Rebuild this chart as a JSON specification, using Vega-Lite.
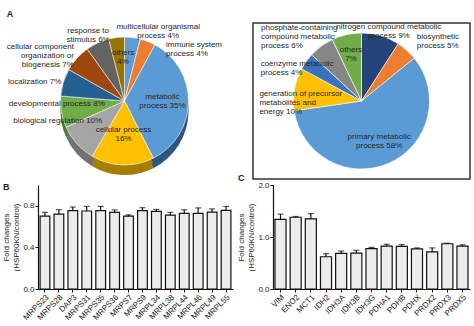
{
  "$schema": "https://vega.github.io/schema/vega-lite/v6.json",
  "padding": {"left": 2, "top": 9, "right": 0, "bottom": 0},
  "background": "white",
  "spacing": -13,
  "config": {
    "view": {"stroke": null},
    "font": "Liberation Sans",
    "axis": {"labelFont": "Liberation Sans", "titleFont": "Liberation Sans", "labelFontSize": 8, "titleFontSize": 8, "titleFontWeight": "normal", "domainColor": "#111", "tickColor": "#111", "labelColor": "#222", "titleColor": "#222", "grid": false, "tickSize": 3, "domainWidth": 1.2, "tickWidth": 1, "labelPadding": 1, "titlePadding": 2},
    "title": {"font": "Liberation Sans", "fontSize": 9, "fontWeight": "bold", "anchor": "start", "color": "#222", "offset": 2},
    "legend": {"disable": true}
  },
  "datasets": {
    "goA": [
      {"i": 1, "cat": "multicellular organismal process", "pct": 4, "label": "multicellular organismal\nprocess 4%"},
      {"i": 2, "cat": "immune system process", "pct": 4, "label": "immune system\nprocess 4%"},
      {"i": 3, "cat": "metabolic process", "pct": 35, "label": "metabolic\nprocess 35%"},
      {"i": 4, "cat": "cellular process", "pct": 16, "label": "cellular process\n16%"},
      {"i": 5, "cat": "biological regulation", "pct": 10, "label": "biological regulation 10%"},
      {"i": 6, "cat": "developmental process", "pct": 8, "label": "developmental process 8%"},
      {"i": 7, "cat": "localization", "pct": 7, "label": "localization 7%"},
      {"i": 8, "cat": "cellular component organization or biogenesis", "pct": 7, "label": "cellular component\norganization or\nbiogenesis 7%"},
      {"i": 9, "cat": "response to stimulus", "pct": 6, "label": "response to\nstimulus 6%"},
      {"i": 10, "cat": "others", "pct": 4, "label": "others\n4%"}
    ],
    "goB": [
      {"i": 1, "cat": "nitrogen compound metabolic process", "pct": 9, "label": "nitrogen compound metabolic\nprocess 9%"},
      {"i": 2, "cat": "biosynthetic process", "pct": 5, "label": "biosynthetic\nprocess 5%"},
      {"i": 3, "cat": "primary metabolic process", "pct": 58, "label": "primary metabolic\nprocess 58%"},
      {"i": 4, "cat": "generation of precursor metabolites and energy", "pct": 10, "label": "generation of precursor\nmetabolites and\nenergy 10%"},
      {"i": 5, "cat": "coenzyme metabolic process", "pct": 4, "label": "coenzyme metabolic\nprocess 4%"},
      {"i": 6, "cat": "phosphate-containing compound metabolic process", "pct": 6, "label": "phosphate-containing\ncompound metabolic\nprocess 6%"},
      {"i": 7, "cat": "others", "pct": 7, "label": "others\n7%"}
    ],
    "barB": [
      {"gene": "MRPS23", "value": 0.70, "upper": 0.737},
      {"gene": "MRPS28", "value": 0.72, "upper": 0.762},
      {"gene": "DAP3", "value": 0.753, "upper": 0.788},
      {"gene": "MRPS31", "value": 0.75, "upper": 0.794},
      {"gene": "MRPS35", "value": 0.753, "upper": 0.794},
      {"gene": "MRPS36", "value": 0.737, "upper": 0.76},
      {"gene": "MRPS7", "value": 0.70, "upper": 0.713},
      {"gene": "MRPS9", "value": 0.753, "upper": 0.782},
      {"gene": "MRPL34", "value": 0.746, "upper": 0.765},
      {"gene": "MRPL38", "value": 0.71, "upper": 0.737},
      {"gene": "MRPL44", "value": 0.727, "upper": 0.762},
      {"gene": "MRPL46", "value": 0.727, "upper": 0.78},
      {"gene": "MRPL49", "value": 0.74, "upper": 0.77},
      {"gene": "MRPL55", "value": 0.756, "upper": 0.794}
    ],
    "barC": [
      {"gene": "VIM", "value": 1.34, "upper": 1.44},
      {"gene": "ENO2", "value": 1.38, "upper": 1.395},
      {"gene": "MCT1", "value": 1.35, "upper": 1.45},
      {"gene": "IDH2", "value": 0.62, "upper": 0.68},
      {"gene": "IDH3A", "value": 0.685, "upper": 0.73},
      {"gene": "IDH3B", "value": 0.69, "upper": 0.745},
      {"gene": "IDH3G", "value": 0.775, "upper": 0.8},
      {"gene": "PDHA1", "value": 0.825, "upper": 0.86},
      {"gene": "PDHB", "value": 0.82, "upper": 0.855},
      {"gene": "PDHX", "value": 0.77, "upper": 0.79},
      {"gene": "PRDX2", "value": 0.715, "upper": 0.79},
      {"gene": "PRDX3", "value": 0.87, "upper": 0.88},
      {"gene": "PRDX5", "value": 0.825, "upper": 0.85}
    ]
  },
  "vconcat": [
    {
      "title": {"text": "A"},
      "spacing": 29,
      "hconcat": [
        {
          "width": 173, "height": 156,
          "data": {"name": "goA"},
          "encoding": {
            "theta": {"field": "pct", "type": "quantitative", "stack": true},
            "order": {"field": "i", "type": "quantitative"}
          },
          "resolve": {"scale": {"color": "independent"}},
          "layer": [
            {"mark": {"type": "arc", "outerRadius": 64, "yOffset": 10},
             "encoding": {"color": {"field": "cat", "type": "nominal", "legend": null,
               "scale": {"domain": ["multicellular organismal process","immune system process","metabolic process","cellular process","biological regulation","developmental process","localization","cellular component organization or biogenesis","response to stimulus","others"],
                         "range": ["#3A6C9C","#A8551F","#2B5881","#A67D00","#717171","#4C7A30","#173F63","#6B300A","#434343","#6A5000"]}}}},
            {"mark": {"type": "arc", "outerRadius": 64, "yOffset": 5},
             "encoding": {"color": {"field": "cat", "type": "nominal", "legend": null,
               "scale": {"domain": ["multicellular organismal process","immune system process","metabolic process","cellular process","biological regulation","developmental process","localization","cellular component organization or biogenesis","response to stimulus","others"],
                         "range": ["#3A6C9C","#A8551F","#2B5881","#A67D00","#717171","#4C7A30","#173F63","#6B300A","#434343","#6A5000"]}}}},
            {"mark": {"type": "arc", "outerRadius": 64, "stroke": "#ffffff", "strokeWidth": 0.6},
             "encoding": {"color": {"field": "cat", "type": "nominal", "legend": null,
               "scale": {"domain": ["multicellular organismal process","immune system process","metabolic process","cellular process","biological regulation","developmental process","localization","cellular component organization or biogenesis","response to stimulus","others"],
                         "range": ["#5E9CD8","#ED7D31","#5B9BD5","#FFC000","#A5A5A5","#70AD47","#255E91","#9E480E","#636363","#997300"]}}}},
            {"mark": {"type": "text", "radius": 70, "align": "center", "baseline": "middle", "dx": 25, "dy": -4.5, "fontSize": 8, "lineHeight": 9, "lineBreak": "\n", "color": "#262626"},
             "encoding": {"text": {"condition": {"test": "datum.i == 1", "field": "label"}, "value": ""}}},
            {"mark": {"type": "text", "radius": 70, "align": "left", "baseline": "middle", "dx": 16, "dy": 9.5, "fontSize": 8, "lineHeight": 9, "lineBreak": "\n", "color": "#262626"},
             "encoding": {"text": {"condition": {"test": "datum.i == 2", "field": "label"}, "value": ""}}},
            {"mark": {"type": "text", "radius": 38, "align": "center", "baseline": "middle", "dy": -4.5, "fontSize": 8, "lineHeight": 9, "lineBreak": "\n", "color": "#262626"},
             "encoding": {"text": {"condition": {"test": "datum.i == 3", "field": "label"}, "value": ""}}},
            {"mark": {"type": "text", "radius": 34, "align": "center", "baseline": "middle", "dy": -4.5, "fontSize": 8, "lineHeight": 9, "lineBreak": "\n", "color": "#262626"},
             "encoding": {"text": {"condition": {"test": "datum.i == 4", "field": "label"}, "value": ""}}},
            {"mark": {"type": "text", "radius": 30, "align": "right", "baseline": "middle", "fontSize": 8, "lineHeight": 9, "lineBreak": "\n", "color": "#262626"},
             "encoding": {"text": {"condition": {"test": "datum.i == 5", "field": "label"}, "value": ""}}},
            {"mark": {"type": "text", "radius": 20, "align": "right", "baseline": "middle", "fontSize": 8, "lineHeight": 9, "lineBreak": "\n", "color": "#262626"},
             "encoding": {"text": {"condition": {"test": "datum.i == 6", "field": "label"}, "value": ""}}},
            {"mark": {"type": "text", "radius": 66, "align": "right", "baseline": "middle", "fontSize": 8, "lineHeight": 9, "lineBreak": "\n", "color": "#262626"},
             "encoding": {"text": {"condition": {"test": "datum.i == 7", "field": "label"}, "value": ""}}},
            {"mark": {"type": "text", "radius": 68, "align": "right", "baseline": "middle", "dy": -9, "fontSize": 8, "lineHeight": 9, "lineBreak": "\n", "color": "#262626"},
             "encoding": {"text": {"condition": {"test": "datum.i == 8", "field": "label"}, "value": ""}}},
            {"mark": {"type": "text", "radius": 72, "align": "center", "baseline": "middle", "dx": -6, "dy": -4.5, "fontSize": 8, "lineHeight": 9, "lineBreak": "\n", "color": "#262626"},
             "encoding": {"text": {"condition": {"test": "datum.i == 9", "field": "label"}, "value": ""}}},
            {"mark": {"type": "text", "radius": 44, "align": "center", "baseline": "middle", "dx": 4, "dy": -4.5, "fontSize": 8, "lineHeight": 9, "lineBreak": "\n", "color": "#262626"},
             "encoding": {"text": {"condition": {"test": "datum.i == 10", "field": "label"}, "value": ""}}}
          ]
        },
        {
          "width": 217, "height": 156,
          "view": {"stroke": "#333333", "strokeWidth": 1.5},
          "data": {"name": "goB"},
          "encoding": {
            "theta": {"field": "pct", "type": "quantitative", "stack": true},
            "order": {"field": "i", "type": "quantitative"}
          },
          "layer": [
            {"mark": {"type": "arc", "outerRadius": 68, "stroke": "#ffffff", "strokeWidth": 0.6},
             "encoding": {"color": {"field": "cat", "type": "nominal", "legend": null,
               "scale": {"domain": ["nitrogen compound metabolic process","biosynthetic process","primary metabolic process","generation of precursor metabolites and energy","coenzyme metabolic process","phosphate-containing compound metabolic process","others"],
                         "range": ["#264478","#ED7D31","#5B9BD5","#FFC000","#3B72C0","#868686","#70AD47"]}}}},
            {"mark": {"type": "text", "clip": true, "radius": 72, "align": "center", "baseline": "middle", "dx": 7, "dy": -4.5, "fontSize": 8, "lineHeight": 9, "lineBreak": "\n", "color": "#262626"},
             "encoding": {"text": {"condition": {"test": "datum.i == 1", "field": "label"}, "value": ""}}},
            {"mark": {"type": "text", "clip": true, "radius": 80, "align": "left", "baseline": "middle", "dx": 2, "dy": -4.5, "fontSize": 8, "lineHeight": 9, "lineBreak": "\n", "color": "#262626"},
             "encoding": {"text": {"condition": {"test": "datum.i == 2", "field": "label"}, "value": ""}}},
            {"mark": {"type": "text", "clip": true, "radius": 44, "align": "center", "baseline": "middle", "dy": -4.5, "fontSize": 8, "lineHeight": 9, "lineBreak": "\n", "color": "#262626"},
             "encoding": {"text": {"condition": {"test": "datum.i == 3", "field": "label"}, "value": ""}}},
            {"mark": {"type": "text", "clip": true, "radius": 60, "align": "left", "baseline": "middle", "dx": -43, "dy": 3, "fontSize": 8, "lineHeight": 9, "lineBreak": "\n", "color": "#262626"},
             "encoding": {"text": {"condition": {"test": "datum.i == 4", "field": "label"}, "value": ""}}},
            {"mark": {"type": "text", "clip": true, "radius": 60, "align": "left", "baseline": "middle", "dx": -52, "dy": -2.5, "fontSize": 8, "lineHeight": 9, "lineBreak": "\n", "color": "#262626"},
             "encoding": {"text": {"condition": {"test": "datum.i == 5", "field": "label"}, "value": ""}}},
            {"mark": {"type": "text", "clip": true, "radius": 75, "align": "left", "baseline": "middle", "dx": -56, "dy": -13, "fontSize": 8, "lineHeight": 9, "lineBreak": "\n", "color": "#262626"},
             "encoding": {"text": {"condition": {"test": "datum.i == 6", "field": "label"}, "value": ""}}},
            {"mark": {"type": "text", "clip": true, "radius": 48, "align": "center", "baseline": "middle", "dy": -4.5, "fontSize": 8, "lineHeight": 9, "lineBreak": "\n", "color": "#262626"},
             "encoding": {"text": {"condition": {"test": "datum.i == 7", "field": "label"}, "value": ""}}}
          ]
        }
      ]
    },
    {
      "spacing": 4,
      "hconcat": [
        {
          "title": {"text": "B", "offset": -7},
          "width": 195, "height": 104,
          "data": {"name": "barB"},
          "encoding": {
            "x": {"field": "gene", "type": "nominal", "sort": null, "title": null,
                  "scale": {"paddingInner": 0.3, "paddingOuter": 0.15},
                  "axis": {"labelAngle": -45, "labelAlign": "right", "labelBaseline": "top"}}
          },
          "layer": [
            {"mark": {"type": "bar", "fill": "#ececec", "stroke": "#111111", "strokeWidth": 1.2},
             "encoding": {"y": {"field": "value", "type": "quantitative", "title": ["Fold changes", "(HSP60KN/control)"],
               "scale": {"domain": [0, 1]}, "axis": {"values": [0, 0.2, 0.4, 0.6, 0.8, 1.0], "format": ".1f"}}}},
            {"mark": {"type": "rule", "color": "#111111", "strokeWidth": 1.2},
             "encoding": {"y": {"field": "value", "type": "quantitative", "title": ["Fold changes", "(HSP60KN/control)"]}, "y2": {"field": "upper"}}},
            {"mark": {"type": "tick", "color": "#111111", "thickness": 1.2, "size": 6},
             "encoding": {"y": {"field": "upper", "type": "quantitative", "title": ["Fold changes", "(HSP60KN/control)"]}}}
          ]
        },
        {
          "title": {"text": "C", "offset": -2},
          "width": 197, "height": 104,
          "data": {"name": "barC"},
          "encoding": {
            "x": {"field": "gene", "type": "nominal", "sort": null, "title": null,
                  "scale": {"paddingInner": 0.27, "paddingOuter": 0.13},
                  "axis": {"labelAngle": -45, "labelAlign": "right", "labelBaseline": "top"}}
          },
          "layer": [
            {"mark": {"type": "bar", "fill": "#ececec", "stroke": "#111111", "strokeWidth": 1.2},
             "encoding": {"y": {"field": "value", "type": "quantitative", "title": ["Fold changes", "(HSP60KN/control)"],
               "scale": {"domain": [0, 2]}, "axis": {"values": [0, 0.5, 1.0, 1.5, 2.0], "format": ".1f"}}}},
            {"mark": {"type": "rule", "color": "#111111", "strokeWidth": 1.2},
             "encoding": {"y": {"field": "value", "type": "quantitative", "title": ["Fold changes", "(HSP60KN/control)"]}, "y2": {"field": "upper"}}},
            {"mark": {"type": "tick", "color": "#111111", "thickness": 1.2, "size": 6},
             "encoding": {"y": {"field": "upper", "type": "quantitative", "title": ["Fold changes", "(HSP60KN/control)"]}}}
          ]
        }
      ]
    }
  ]
}
